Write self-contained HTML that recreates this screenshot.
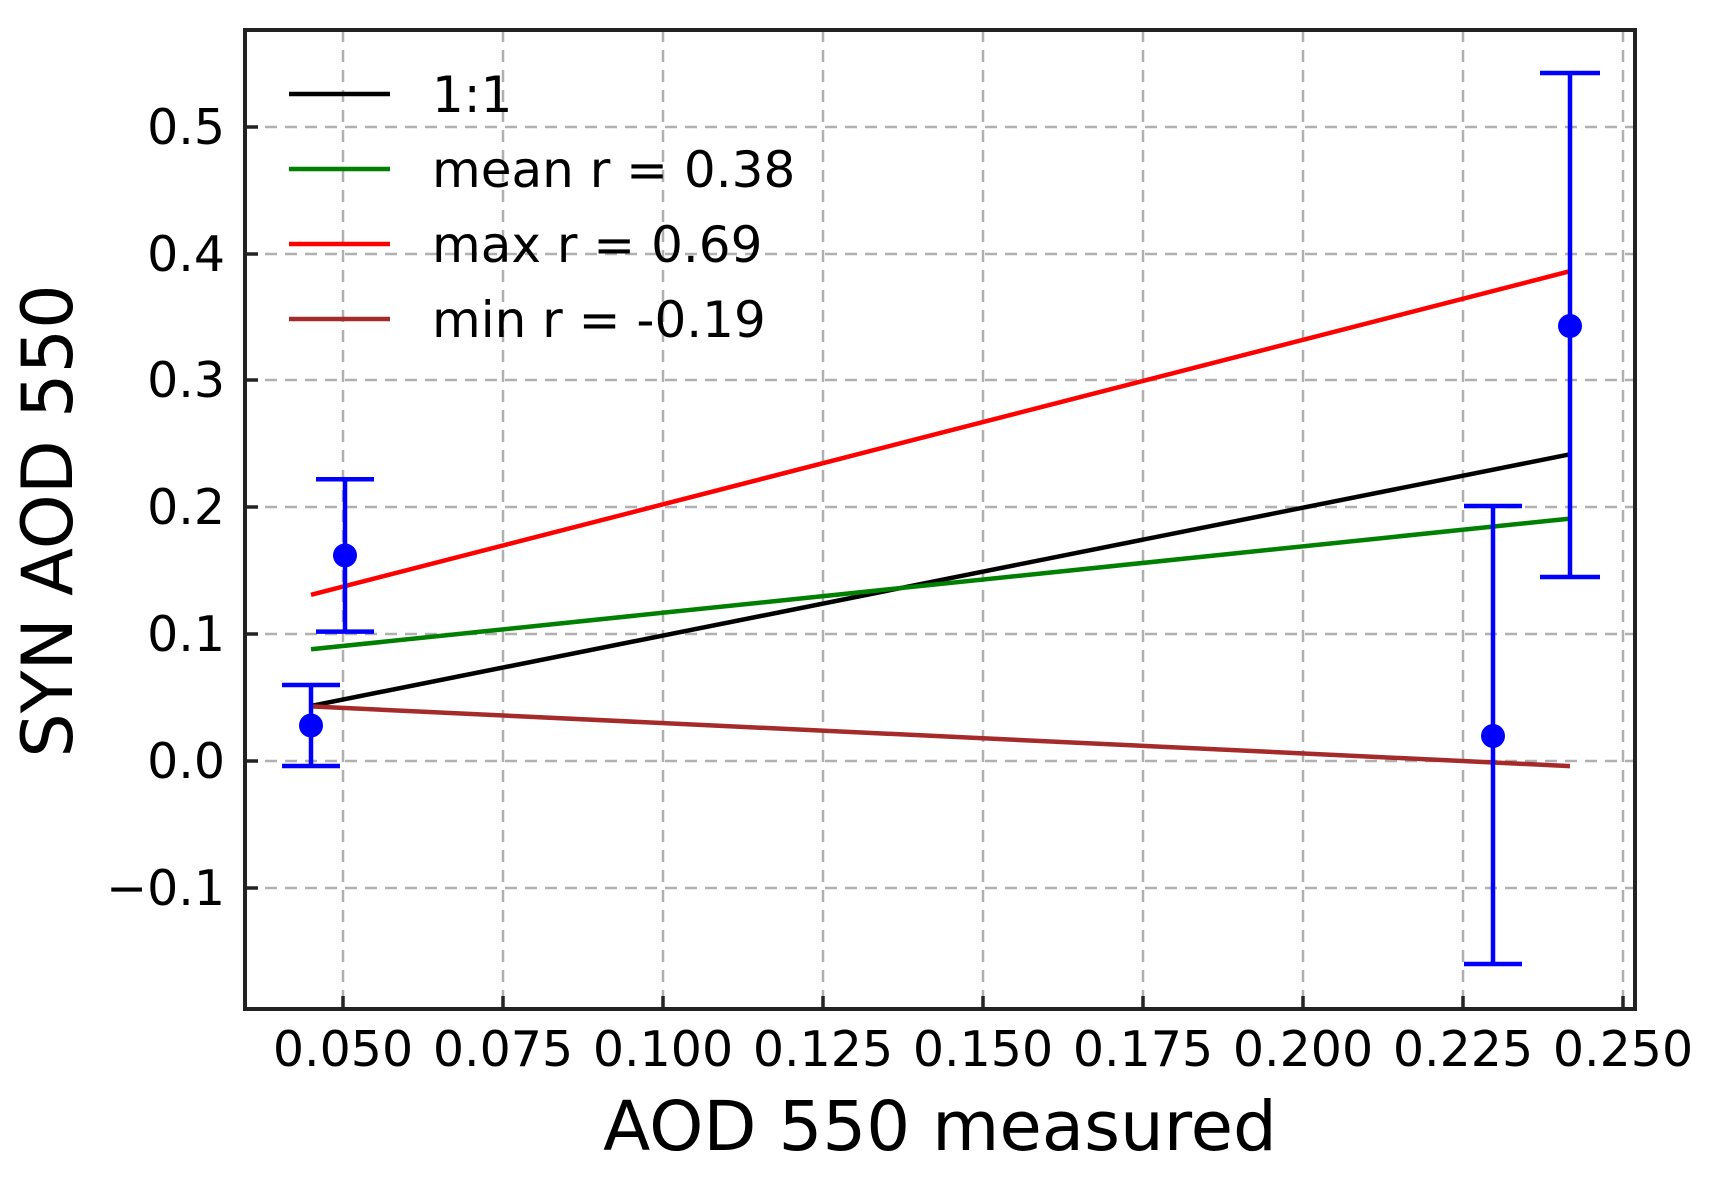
<!DOCTYPE html>
<html><head><meta charset="utf-8"><style>html,body{margin:0;padding:0;background:#fff}svg{display:block}</style></head>
<body>
<svg width="1709" height="1177" viewBox="0 0 1709 1177" xmlns="http://www.w3.org/2000/svg" font-family="DejaVu Sans, Liberation Sans, sans-serif">
<rect width="1709" height="1177" fill="#fff"/>
<g stroke="#b0b0b0" stroke-width="2.5" stroke-dasharray="12,8">
<line x1="343" y1="30" x2="343" y2="1009"/><line x1="503" y1="30" x2="503" y2="1009"/><line x1="663" y1="30" x2="663" y2="1009"/><line x1="823" y1="30" x2="823" y2="1009"/><line x1="983" y1="30" x2="983" y2="1009"/><line x1="1143" y1="30" x2="1143" y2="1009"/><line x1="1303" y1="30" x2="1303" y2="1009"/><line x1="1463" y1="30" x2="1463" y2="1009"/><line x1="1623" y1="30" x2="1623" y2="1009"/>
<line x1="245" y1="888" x2="1635" y2="888"/><line x1="245" y1="761" x2="1635" y2="761"/><line x1="245" y1="634" x2="1635" y2="634"/><line x1="245" y1="507" x2="1635" y2="507"/><line x1="245" y1="380" x2="1635" y2="380"/><line x1="245" y1="254" x2="1635" y2="254"/><line x1="245" y1="127" x2="1635" y2="127"/>
</g>
<g stroke-width="4.5" fill="none">
<line x1="311" y1="705.9" x2="1570" y2="454.3" stroke="#000"/>
<line x1="311" y1="649.3" x2="1570" y2="518.6" stroke="#008000"/>
<line x1="311" y1="594.8" x2="1570" y2="271.2" stroke="#ff0000"/>
<line x1="311" y1="706.4" x2="1570" y2="766.1" stroke="#a52a2a"/>
</g>
<g stroke="#0000ff" stroke-width="4.5" fill="#0000ff">
<line x1="311" y1="766" x2="311" y2="685"/><line x1="282" y1="766" x2="340" y2="766"/><line x1="282" y1="685" x2="340" y2="685"/><circle cx="311" cy="725.5" r="12" stroke="none"/>
<line x1="345" y1="631.6" x2="345" y2="479.3"/><line x1="316" y1="631.6" x2="374" y2="631.6"/><line x1="316" y1="479.3" x2="374" y2="479.3"/><circle cx="345" cy="555.4" r="12" stroke="none"/>
<line x1="1493" y1="964" x2="1493" y2="506"/><line x1="1464" y1="964" x2="1522" y2="964"/><line x1="1464" y1="506" x2="1522" y2="506"/><circle cx="1493" cy="736" r="12" stroke="none"/>
<line x1="1570" y1="577" x2="1570" y2="73"/><line x1="1540" y1="577" x2="1600" y2="577"/><line x1="1540" y1="73" x2="1600" y2="73"/><circle cx="1570" cy="326" r="12" stroke="none"/>
</g>
<g stroke="#222" stroke-width="3.5">
<line x1="343" y1="1009" x2="343" y2="996"/><line x1="503" y1="1009" x2="503" y2="996"/><line x1="663" y1="1009" x2="663" y2="996"/><line x1="823" y1="1009" x2="823" y2="996"/><line x1="983" y1="1009" x2="983" y2="996"/><line x1="1143" y1="1009" x2="1143" y2="996"/><line x1="1303" y1="1009" x2="1303" y2="996"/><line x1="1463" y1="1009" x2="1463" y2="996"/><line x1="1623" y1="1009" x2="1623" y2="996"/>
<line x1="245" y1="888" x2="258" y2="888"/><line x1="245" y1="761" x2="258" y2="761"/><line x1="245" y1="634" x2="258" y2="634"/><line x1="245" y1="507" x2="258" y2="507"/><line x1="245" y1="380" x2="258" y2="380"/><line x1="245" y1="254" x2="258" y2="254"/><line x1="245" y1="127" x2="258" y2="127"/>
</g>
<rect x="245" y="30" width="1390" height="979" fill="none" stroke="#222" stroke-width="4"/>
<g font-size="49" fill="#000" text-anchor="middle">
<text x="343" y="1066">0.050</text><text x="503" y="1066">0.075</text><text x="663" y="1066">0.100</text><text x="823" y="1066">0.125</text><text x="983" y="1066">0.150</text><text x="1143" y="1066">0.175</text><text x="1303" y="1066">0.200</text><text x="1463" y="1066">0.225</text><text x="1623" y="1066">0.250</text>
</g>
<g font-size="49" fill="#000" text-anchor="end">
<text x="225" y="778">0.0</text><text x="225" y="905">−0.1</text><text x="225" y="651">0.1</text><text x="225" y="524">0.2</text><text x="225" y="397">0.3</text><text x="225" y="271">0.4</text><text x="225" y="144">0.5</text>
</g>
<text x="940" y="1150" font-size="69" text-anchor="middle">AOD 550 measured</text>
<text transform="translate(72,521) rotate(-90)" font-size="70" text-anchor="middle">SYN AOD 550</text>
<g stroke-width="4.5">
<line x1="289" y1="94" x2="390" y2="94" stroke="#000"/>
<line x1="289" y1="169" x2="390" y2="169" stroke="#008000"/>
<line x1="289" y1="244" x2="390" y2="244" stroke="#ff0000"/>
<line x1="289" y1="319" x2="390" y2="319" stroke="#a52a2a"/>
</g>
<g font-size="50" fill="#000">
<text x="432" y="112">1:1</text><text x="432" y="187">mean r = 0.38</text><text x="432" y="262">max r = 0.69</text><text x="432" y="337">min r = -0.19</text>
</g>
</svg>
</body></html>
